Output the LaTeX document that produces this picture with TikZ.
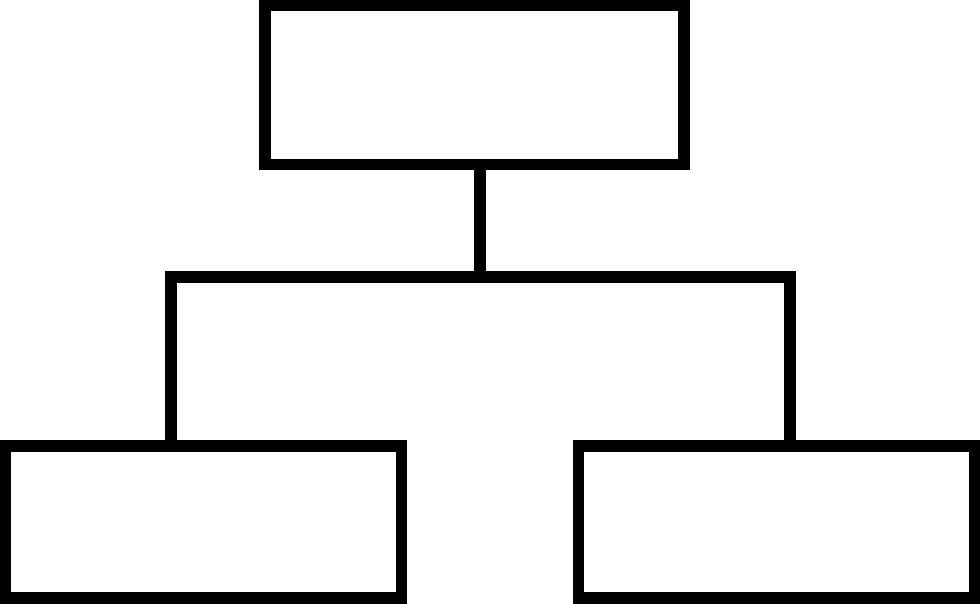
\documentclass[tikz,border=0pt]{standalone}
\usetikzlibrary{calc}
\def\lw{1.15mm}
\tikzset{
    orgbox/.style = {draw, line width=\lw, inner sep=0pt, minimum height=15.2mm},
    link/.style = {draw, line width=\lw}
}
\begin{document}
\begin{tikzpicture}[x=0.1mm,y=-0.1mm]
    \useasboundingbox (0,0) rectangle (980,604);
    \node[orgbox, minimum width=41.9mm, minimum height=15.9mm] (head) at (474.5,85) {};
    \node[orgbox, minimum width=39.6mm] (leftbox) at (203.6,522) {};
    \node[orgbox, minimum width=39.6mm] (rightbox) at (776.4,522) {};
    \coordinate (split) at (480,277);
    \coordinate (leftend) at (171,277);
    \coordinate (rightend) at (790,277);
    \draw[link] (head.south -| split) -- (split);
    \draw[link] (leftbox.north -| leftend) -- (leftend) -- (rightend) -- (rightbox.north -| rightend);
\end{tikzpicture}
\end{document}
